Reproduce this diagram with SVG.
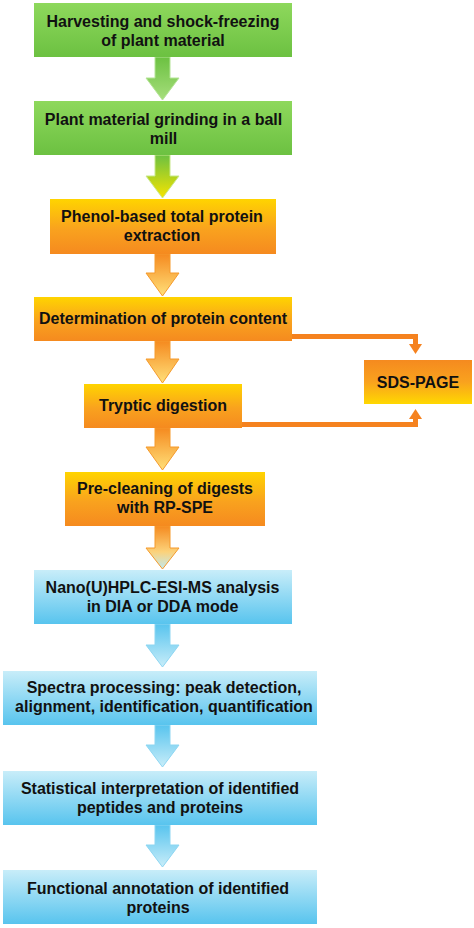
<svg xmlns="http://www.w3.org/2000/svg" width="474" height="928" viewBox="0 0 474 928">
<defs>
<linearGradient id="gGreen" x1="0" y1="0" x2="0" y2="1"><stop offset="0" stop-color="#8ed85c"/><stop offset="1" stop-color="#6cc141"/></linearGradient>
<linearGradient id="gOrange" x1="0" y1="0" x2="0" y2="1"><stop offset="0" stop-color="#ffd400"/><stop offset="0.55" stop-color="#f9a21e"/><stop offset="1" stop-color="#f58a1f"/></linearGradient>
<linearGradient id="gOrangeRev" x1="0" y1="0" x2="0" y2="1"><stop offset="0" stop-color="#f58a1f"/><stop offset="0.5" stop-color="#f9a21e"/><stop offset="1" stop-color="#ffd800"/></linearGradient>
<linearGradient id="gBlue" x1="0" y1="0" x2="0" y2="1"><stop offset="0" stop-color="#c8edf9"/><stop offset="1" stop-color="#58c4ee"/></linearGradient>
<linearGradient id="aGreen" x1="0" y1="0" x2="0" y2="1"><stop offset="0" stop-color="#6cc141"/><stop offset="1" stop-color="#a6de7c"/></linearGradient>
<linearGradient id="aGreenYellow" x1="0" y1="0" x2="0" y2="1"><stop offset="0" stop-color="#6cc141"/><stop offset="1" stop-color="#f6e400"/></linearGradient>
<linearGradient id="aOrange" x1="0" y1="0" x2="0" y2="1"><stop offset="0" stop-color="#f58a1f"/><stop offset="1" stop-color="#ffe07a"/></linearGradient>
<linearGradient id="aOrangeBlue" x1="0" y1="0" x2="0" y2="1"><stop offset="0" stop-color="#f58a1f"/><stop offset="0.6" stop-color="#fcd27a"/><stop offset="1" stop-color="#bfeaf2"/></linearGradient>
<linearGradient id="aBlue" x1="0" y1="0" x2="0" y2="1"><stop offset="0" stop-color="#58c4ee"/><stop offset="1" stop-color="#c8edf9"/></linearGradient>
</defs>
<style>
text{font-family:"Liberation Sans",Arial,sans-serif;font-weight:bold;font-size:16px;fill:#111;text-anchor:middle}
.green{fill:url(#gGreen)}
.orange{fill:url(#gOrange)}
.blue{fill:url(#gBlue)}
.conn{fill:none;stroke:#f5821f;stroke-width:5}
.head{fill:#f5821f}
</style>
<rect width="474" height="928" fill="#ffffff"/>

<g id="connectors">
<path d="M155,57 H170 V78 H179 L162.5,100 L146,78 H155 Z" fill="url(#aGreen)" stroke="#b4e496" stroke-width="1"/>
<path d="M155,155 H170 V176 H179 L162.5,198 L146,176 H155 Z" fill="url(#aGreenYellow)" stroke="#c8e88a" stroke-width="1"/>
<path d="M155,254 H170 V273 H179 L162.5,296 L146,273 H155 Z" fill="url(#aOrange)" stroke="#f59a2c" stroke-width="1"/>
<path d="M155,341 H170 V359 H179 L162.5,383 L146,359 H155 Z" fill="url(#aOrange)" stroke="#f59a2c" stroke-width="1"/>
<path d="M155,428 H170 V447 H179 L162.5,470 L146,447 H155 Z" fill="url(#aOrange)" stroke="#f59a2c" stroke-width="1"/>
<path d="M155,526 H170 V548 H179 L162.5,569 L146,548 H155 Z" fill="url(#aOrangeBlue)" stroke="#f59a2c" stroke-width="1"/>
<path d="M155,624 H170 V645 H179 L162.5,667 L146,645 H155 Z" fill="url(#aBlue)" stroke="#8dd6f2" stroke-width="1"/>
<path d="M155,725 H170 V745 H179 L162.5,767 L146,745 H155 Z" fill="url(#aBlue)" stroke="#8dd6f2" stroke-width="1"/>
<path d="M155,825 H170 V845 H179 L162.5,867 L146,845 H155 Z" fill="url(#aBlue)" stroke="#8dd6f2" stroke-width="1"/>
<path class="conn" d="M290,336.5 H415.5 V346"/>
<polygon class="head" points="409,344 422,344 415.5,354"/>
<path class="conn" d="M240,424.5 H415.5 V416"/>
<polygon class="head" points="409,419 422,419 415.5,409"/>
</g>

<g id="n1"><rect class="green" x="34" y="3" width="258" height="54"/><text x="163" y="27">Harvesting and shock-freezing</text><text x="163" y="46">of plant material</text></g>
<g id="n2"><rect class="green" x="34" y="101" width="258" height="54"/><text x="163.5" y="125">Plant material grinding in a ball</text><text x="163.5" y="144">mill</text></g>
<g id="n3"><rect class="orange" x="50" y="199" width="226" height="55"/><text x="162" y="222">Phenol-based total protein</text><text x="162" y="241">extraction</text></g>
<g id="n4"><rect class="orange" x="34" y="297" width="258" height="44"/><text x="163" y="324">Determination of protein content</text></g>
<g id="n5"><rect class="orange" x="84" y="384" width="158" height="44"/><text x="163" y="411">Tryptic digestion</text></g>
<g id="n6"><rect class="orange" x="65" y="472" width="200" height="54"/><text x="165" y="494">Pre-cleaning of digests</text><text x="165" y="513">with RP-SPE</text></g>
<g id="n7"><rect class="blue" x="34" y="570" width="258" height="54"/><text x="162.5" y="593">Nano(U)HPLC-ESI-MS analysis</text><text x="162.5" y="612">in DIA or DDA mode</text></g>
<g id="n8"><rect class="blue" x="3" y="671" width="314" height="54"/><text x="164" y="693">Spectra processing: peak detection,</text><text x="164" y="712">alignment, identification, quantification</text></g>
<g id="n9"><rect class="blue" x="3" y="771" width="314" height="54"/><text x="160" y="794">Statistical interpretation of identified</text><text x="160" y="813">peptides and proteins</text></g>
<g id="n10"><rect class="blue" x="3" y="870" width="314" height="54"/><text x="158" y="894">Functional annotation of identified</text><text x="158" y="913">proteins</text></g>
<g id="sds"><rect x="364" y="360" width="108" height="44" fill="url(#gOrangeRev)"/><text x="418" y="388">SDS-PAGE</text></g>
</svg>
